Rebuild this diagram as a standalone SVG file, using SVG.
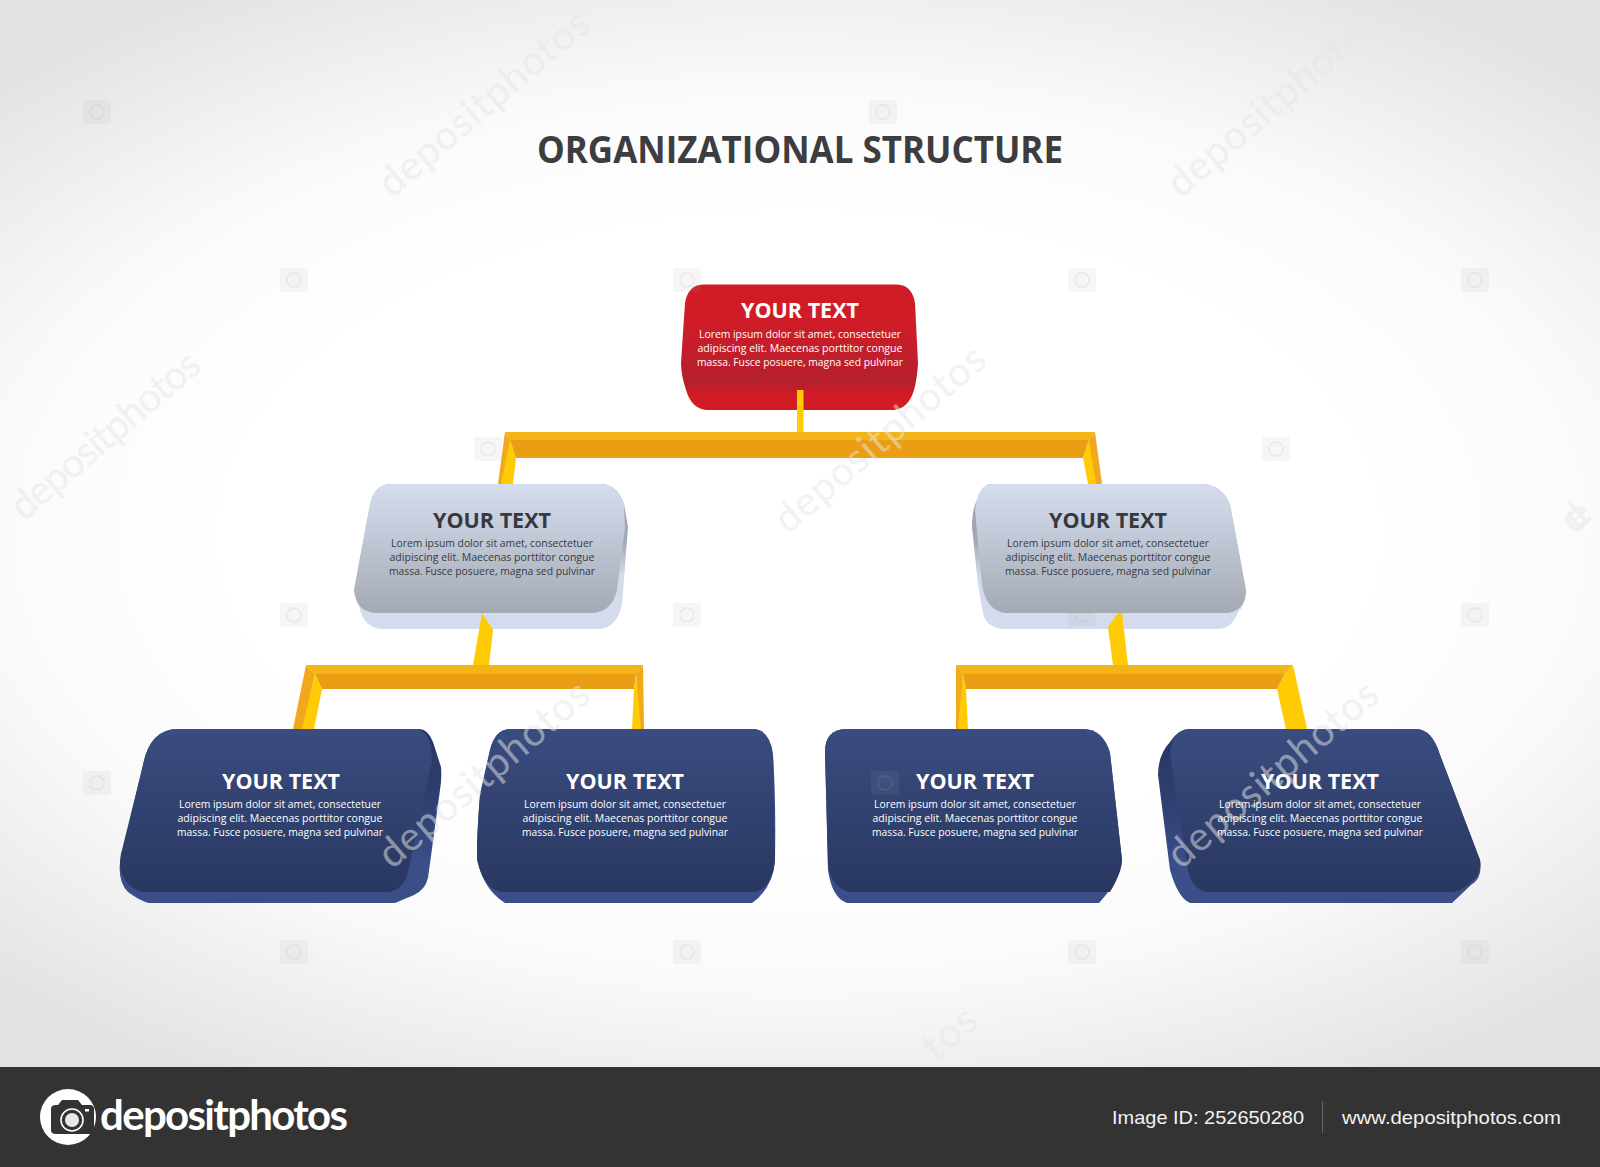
<svg xmlns="http://www.w3.org/2000/svg" width="1600" height="1167" viewBox="0 0 1600 1167">
<style>
text{font-family:"Open Sans","Noto Sans","Liberation Sans",sans-serif}
.title{font-size:37px;font-weight:700;fill:#3d3d3f}
.h{font-size:21.5px;font-weight:700;text-anchor:middle}
.b{font-size:11.2px;font-weight:500;text-anchor:middle}
.lt{fill:#fff}
.dk{fill:#37393f}
.wm{font-family:Lato,"Open Sans",sans-serif;font-size:40px;font-weight:400;fill:#e6e6e6;opacity:.5}
.top{fill:#f2b516}.front{fill:#eb9e14}.leg{fill:#ffcb05}.legd{fill:#f2a81c}
.ft{font-family:"Liberation Sans",Arial,sans-serif;font-size:19px;fill:#f2f2f2}
</style>
<defs>
<radialGradient id="bg" gradientUnits="userSpaceOnUse" cx="0" cy="0" r="1" gradientTransform="translate(800 534) scale(1150 640)">
<stop offset=".5" stop-color="#fff"/><stop offset=".7" stop-color="#fafafa"/><stop offset=".85" stop-color="#eeeeee"/><stop offset="1" stop-color="#e2e2e2"/>
</radialGradient>
<linearGradient id="redF" gradientUnits="userSpaceOnUse" x1="0" y1="285" x2="0" y2="410">
<stop offset="0" stop-color="#d11b26"/><stop offset=".3" stop-color="#cf1c27"/><stop offset=".78" stop-color="#b5202d"/><stop offset=".88" stop-color="#d21b25"/><stop offset="1" stop-color="#d41b24"/>
</linearGradient>
<linearGradient id="grayF" gradientUnits="userSpaceOnUse" x1="0" y1="484" x2="0" y2="613">
<stop offset="0" stop-color="#d5ddee"/><stop offset="1" stop-color="#a4aab4"/>
</linearGradient>
<linearGradient id="grayS" gradientUnits="userSpaceOnUse" x1="0" y1="490" x2="0" y2="629">
<stop offset="0" stop-color="#959ba8"/><stop offset=".38" stop-color="#a4abb8"/><stop offset=".62" stop-color="#d3dbec"/><stop offset="1" stop-color="#d3dbec"/>
</linearGradient>
<linearGradient id="blueF" gradientUnits="userSpaceOnUse" x1="0" y1="729" x2="0" y2="892">
<stop offset="0" stop-color="#3a4c80"/><stop offset="1" stop-color="#293860"/>
</linearGradient>
<linearGradient id="blueS" gradientUnits="userSpaceOnUse" x1="0" y1="745" x2="0" y2="903">
<stop offset="0" stop-color="#283866"/><stop offset=".35" stop-color="#2e3f70"/><stop offset=".75" stop-color="#3b4e88"/><stop offset="1" stop-color="#3b4e88"/>
</linearGradient>
<symbol id="cam" viewBox="0 0 28 24" overflow="visible">
<rect x="0" y="0" width="28" height="24" rx="2" fill="#aaa" opacity=".1"/>
<circle cx="14" cy="12" r="7" fill="none" stroke="#aaa" stroke-width="1.5" opacity=".18"/>
</symbol>
</defs>

<rect id="background" width="1600" height="1067" fill="url(#bg)"/>
<text class="title" x="537" y="163" textLength="526" lengthAdjust="spacingAndGlyphs">ORGANIZATIONAL STRUCTURE</text>

<g id="node-root">
<path d="M703,284.5H897Q912,285 915,303L918,363Q917,380 914,390Q908,410 892,410H708Q692,410 686,390Q681,375 681,363L685,303Q688,285 703,284.5Z" fill="url(#redF)"/>
<text class="h lt" x="800" y="318" textLength="118" lengthAdjust="spacingAndGlyphs">YOUR TEXT</text>
<text class="b lt" x="800" y="338" textLength="202" lengthAdjust="spacingAndGlyphs">Lorem ipsum dolor sit amet, consectetuer</text>
<text class="b lt" x="800" y="352" textLength="205" lengthAdjust="spacingAndGlyphs">adipiscing elit. Maecenas porttitor congue</text>
<text class="b lt" x="800" y="366" textLength="206" lengthAdjust="spacingAndGlyphs">massa. Fusce posuere, magna sed pulvinar</text>
</g>

<g id="node-left-manager">
<path d="M392,484H600Q617,484 624,504L628,527L622,605Q616,629 598,629H380Q366,627 361,613L354,590L370,505Q374,484 392,484Z" fill="url(#grayS)"/>
<path d="M392,484H600Q617,484 624,504L625,527L617,590Q612,613 590,613H378Q356,613 354,590L370,505Q374,484 392,484Z" fill="url(#grayF)"/>
<text class="h dk" x="492" y="528" textLength="118" lengthAdjust="spacingAndGlyphs">YOUR TEXT</text>
<text class="b dk" x="492" y="547" textLength="202" lengthAdjust="spacingAndGlyphs">Lorem ipsum dolor sit amet, consectetuer</text>
<text class="b dk" x="492" y="561" textLength="205" lengthAdjust="spacingAndGlyphs">adipiscing elit. Maecenas porttitor congue</text>
<text class="b dk" x="492" y="575" textLength="206" lengthAdjust="spacingAndGlyphs">massa. Fusce posuere, magna sed pulvinar</text>
</g>

<g id="node-right-manager">
<path d="M992,484H1200Q1222,484 1230,505L1246,590Q1245,607 1238,612Q1232,629 1218,629H1002Q986,627 983,613L978,585L972,527Q972,510 977,500Q982,484 992,484Z" fill="url(#grayS)"/>
<path d="M992,484H1200Q1222,484 1230,505L1246,590Q1246,610 1228,613H1005Q986,610 982,585L975,510Q978,484 992,484Z" fill="url(#grayF)"/>
<text class="h dk" x="1108" y="528" textLength="118" lengthAdjust="spacingAndGlyphs">YOUR TEXT</text>
<text class="b dk" x="1108" y="547" textLength="202" lengthAdjust="spacingAndGlyphs">Lorem ipsum dolor sit amet, consectetuer</text>
<text class="b dk" x="1108" y="561" textLength="205" lengthAdjust="spacingAndGlyphs">adipiscing elit. Maecenas porttitor congue</text>
<text class="b dk" x="1108" y="575" textLength="206" lengthAdjust="spacingAndGlyphs">massa. Fusce posuere, magna sed pulvinar</text>
</g>

<g id="node-team-1">
<path d="M178,729H419Q428,729 433,742L441,767Q442,778 440,790L428,878Q425,890 414,895L395,903H149Q140,901 128,892Q118,882 120,862L143,765Q150,729 178,729Z" fill="url(#blueS)"/>
<path d="M178,729H419Q426,732 431,745L432,762L408,872Q403,892 385,892H143Q125,888 120,867Q120,855 122,850L143,765Q150,729 178,729Z" fill="url(#blueF)"/>
<text class="h lt" x="281" y="789" textLength="118" lengthAdjust="spacingAndGlyphs">YOUR TEXT</text>
<text class="b lt" x="280" y="808" textLength="202" lengthAdjust="spacingAndGlyphs">Lorem ipsum dolor sit amet, consectetuer</text>
<text class="b lt" x="280" y="822" textLength="205" lengthAdjust="spacingAndGlyphs">adipiscing elit. Maecenas porttitor congue</text>
<text class="b lt" x="280" y="836" textLength="206" lengthAdjust="spacingAndGlyphs">massa. Fusce posuere, magna sed pulvinar</text>
</g>

<g id="node-team-2">
<path d="M511,729H752Q770,729 773,755Q776,800 775,860Q773,888 752,903H505Q484,890 477,860Q477,830 480,795L490,750Q495,729 511,729Z" fill="#3b4e88"/>
<path d="M511,729H752Q770,729 773,755L775,855Q775,885 756,892H500Q480,885 477,855Q477,830 480,795L490,750Q495,729 511,729Z" fill="url(#blueF)"/>
<text class="h lt" x="625" y="789" textLength="118" lengthAdjust="spacingAndGlyphs">YOUR TEXT</text>
<text class="b lt" x="625" y="808" textLength="202" lengthAdjust="spacingAndGlyphs">Lorem ipsum dolor sit amet, consectetuer</text>
<text class="b lt" x="625" y="822" textLength="205" lengthAdjust="spacingAndGlyphs">adipiscing elit. Maecenas porttitor congue</text>
<text class="b lt" x="625" y="836" textLength="206" lengthAdjust="spacingAndGlyphs">massa. Fusce posuere, magna sed pulvinar</text>
</g>

<g id="node-team-3">
<path d="M847,729H1083Q1103,729 1110,753L1122,860Q1120,880 1099,903H847Q832,898 828,870L825,752Q825,729 847,729Z" fill="#3b4e88"/>
<path d="M847,729H1083Q1103,729 1110,753L1122,860Q1122,872 1110,892H852Q832,890 828,865L825,752Q825,729 847,729Z" fill="url(#blueF)"/>
<text class="h lt" x="975" y="789" textLength="118" lengthAdjust="spacingAndGlyphs">YOUR TEXT</text>
<text class="b lt" x="975" y="808" textLength="202" lengthAdjust="spacingAndGlyphs">Lorem ipsum dolor sit amet, consectetuer</text>
<text class="b lt" x="975" y="822" textLength="205" lengthAdjust="spacingAndGlyphs">adipiscing elit. Maecenas porttitor congue</text>
<text class="b lt" x="975" y="836" textLength="206" lengthAdjust="spacingAndGlyphs">massa. Fusce posuere, magna sed pulvinar</text>
</g>

<g id="node-team-4">
<path d="M1190,729H1416Q1432,729 1440,755L1480,860Q1483,878 1471,885L1452,903H1190Q1178,898 1170,870L1158,775Q1158,755 1170,742Q1178,729 1190,729Z" fill="url(#blueS)"/>
<path d="M1190,729H1416Q1432,729 1440,755L1480,860Q1483,878 1460,890Q1455,892 1450,892H1208Q1192,890 1188,870L1170,755Q1172,729 1190,729Z" fill="url(#blueF)"/>
<text class="h lt" x="1320" y="789" textLength="118" lengthAdjust="spacingAndGlyphs">YOUR TEXT</text>
<text class="b lt" x="1320" y="808" textLength="202" lengthAdjust="spacingAndGlyphs">Lorem ipsum dolor sit amet, consectetuer</text>
<text class="b lt" x="1320" y="822" textLength="205" lengthAdjust="spacingAndGlyphs">adipiscing elit. Maecenas porttitor congue</text>
<text class="b lt" x="1320" y="836" textLength="206" lengthAdjust="spacingAndGlyphs">massa. Fusce posuere, magna sed pulvinar</text>
</g>

<g id="connectors">
<rect class="leg" x="797" y="390" width="6.5" height="42"/>
<path class="legd" d="M505,432L510,440L506,484H498Z"/>
<path class="leg" d="M510,440L516,458L513,484H501Z"/>
<path class="top" d="M505,432H1095L1089,440H510Z"/>
<path class="front" d="M510,440H1089L1083,458H516Z"/>
<path class="leg" d="M1089,440L1083,458L1088,484H1097L1095,445Z"/>
<path class="legd" d="M1095,432L1102,484H1096L1089,440Z"/>
<path class="leg" d="M482,613L493,630L489,665H473Z"/>
<path class="legd" d="M306,665L315,674L303,729H293Z"/>
<path class="leg" d="M315,674L322,689L314,729H302Z"/>
<path class="top" d="M306,665H643L636,674H315Z"/>
<path class="front" d="M315,674H636L634,689H322Z"/>
<path class="leg" d="M636,674L634,689L632,729H642Z"/>
<path class="legd" d="M643,665L644,729H641L636,674Z"/>
<path class="leg" d="M1118,613H1122L1128,665H1113L1108,627Z"/>
<path class="legd" d="M956,665L963,674L962,729H956Z"/>
<path class="leg" d="M963,674L966,689L968,729H958Z"/>
<path class="top" d="M956,665H1293L1285,674H963Z"/>
<path class="front" d="M963,674H1285L1277,689H966Z"/>
<path class="leg" d="M1285,674L1277,689L1286,729H1307L1293,665Z"/>
</g>

<g id="watermark">
<use href="#cam" x="83" y="100" width="28" height="24"/>
<use href="#cam" x="280" y="268" width="28" height="24"/>
<use href="#cam" x="673" y="268" width="28" height="24"/>
<use href="#cam" x="869" y="100" width="28" height="24"/>
<use href="#cam" x="1068" y="268" width="28" height="24"/>
<use href="#cam" x="1461" y="268" width="28" height="24"/>
<use href="#cam" x="474" y="437" width="28" height="24"/>
<use href="#cam" x="1262" y="437" width="28" height="24"/>
<use href="#cam" x="280" y="603" width="28" height="24"/>
<use href="#cam" x="673" y="603" width="28" height="24"/>
<use href="#cam" x="1068" y="603" width="28" height="24"/>
<use href="#cam" x="1461" y="603" width="28" height="24"/>
<use href="#cam" x="83" y="771" width="28" height="24"/>
<use href="#cam" x="871" y="771" width="28" height="24"/>
<use href="#cam" x="280" y="940" width="28" height="24"/>
<use href="#cam" x="673" y="940" width="28" height="24"/>
<use href="#cam" x="1068" y="940" width="28" height="24"/>
<use href="#cam" x="1461" y="940" width="28" height="24"/>
<text class="wm" transform="translate(392 199) rotate(-40.5)" textLength="264">depositphotos</text>
<text class="wm" transform="translate(1181 199) rotate(-40.5)" textLength="264">depositphotos</text>
<text class="wm" transform="translate(24 522) rotate(-40.5)" textLength="236">depositphotos</text>
<text class="wm" transform="translate(788 535) rotate(-40.5)" textLength="264">depositphotos</text>
<text class="wm" transform="translate(1574 535) rotate(-40.5)" textLength="26">de</text>
<text class="wm" transform="translate(392 870) rotate(-40.5)" textLength="264">depositphotos</text>
<text class="wm" transform="translate(1181 870) rotate(-40.5)" textLength="264">depositphotos</text>
<text class="wm" transform="translate(150 1062) rotate(-40.5)" textLength="58">tos</text>
<text class="wm" transform="translate(936 1062) rotate(-40.5)" textLength="58">tos</text>
</g>

<g id="footer">
<rect x="0" y="1067" width="1600" height="100" fill="#333334"/>
<circle cx="68" cy="1117" r="28" fill="#fff"/>
<path d="M58,1105L62,1100H78L82,1105H90Q94,1105 94,1109V1130Q94,1134 90,1134H56Q51,1134 51,1130V1109Q51,1105 56,1105Z" fill="#333334"/>
<circle cx="72" cy="1120" r="11" fill="none" stroke="#fff" stroke-width="1.6"/>
<circle cx="72" cy="1120" r="7" fill="#e8e8e8"/>
<rect x="85" y="1109" width="4" height="2.5" fill="#fff"/>
<text x="100" y="1130" textLength="248" lengthAdjust="spacing" style="font-family:Lato,'Open Sans',sans-serif;font-size:42px;font-weight:700;fill:#fff">depositphotos</text>
<text class="ft" x="1112" y="1124" textLength="192" lengthAdjust="spacingAndGlyphs">Image ID: 252650280</text>
<rect x="1322" y="1101" width="1" height="32" fill="#666"/>
<text class="ft" x="1342" y="1124" textLength="219" lengthAdjust="spacingAndGlyphs">www.depositphotos.com</text>
</g>
</svg>
